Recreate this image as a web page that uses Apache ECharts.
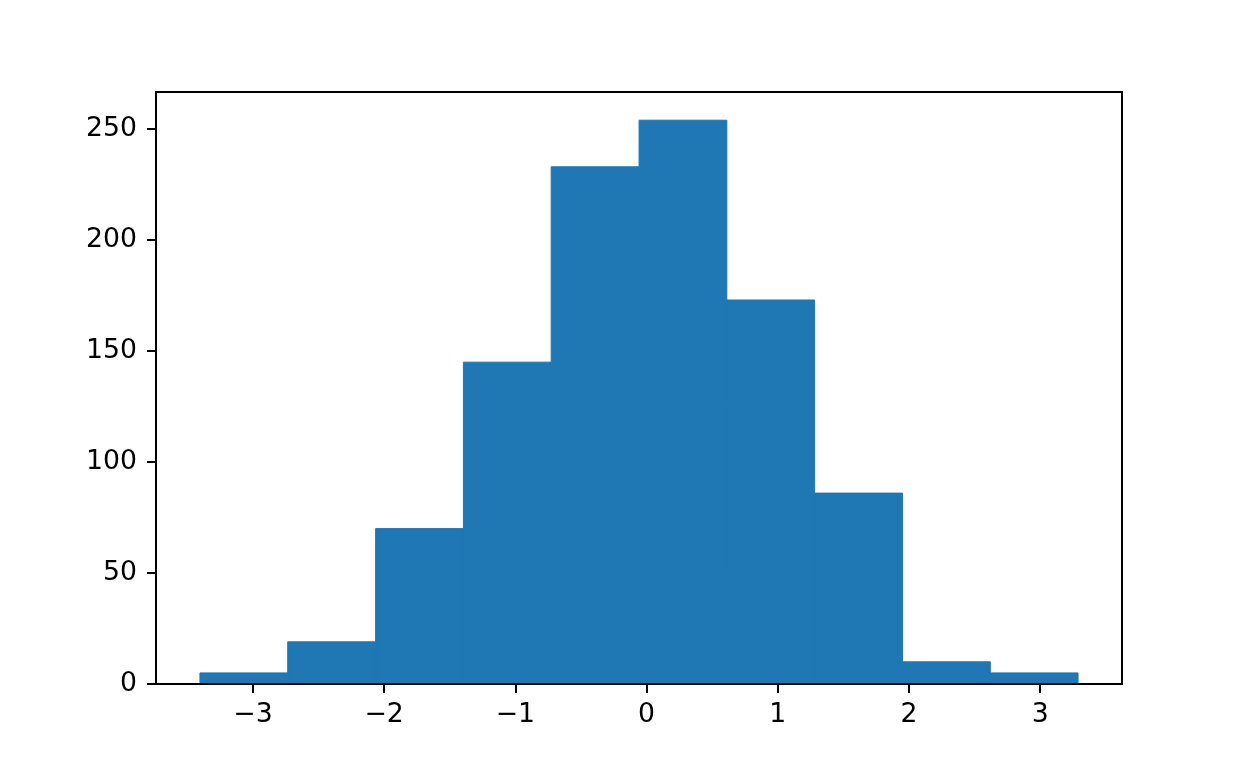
<!DOCTYPE html>
<html>
<head>
<meta charset="utf-8">
<script src="https://cdn.jsdelivr.net/npm/echarts@6/dist/echarts.min.js"></script>
<style>
html,body{margin:0;padding:0;background:#fff;}
#chart{width:1248px;height:768px;}
</style>
</head>
<body>
<div id="chart"></div>
<script>
// Histogram bin edges
var binEdges = [-3.404, -2.735, -2.065, -1.396, -0.727, -0.057, 0.612, 1.281, 1.951, 2.620, 3.289];
// Counts per bin
var counts = [5, 19, 70, 145, 233, 254, 173, 86, 10, 5];
// Tick labels
var xTicks = [-3, -2, -1, 0, 1, 2, 3];
var yTicks = [0, 50, 100, 150, 200, 250];

var data = [];
for (var i = 0; i < counts.length; i++) {
  data.push([binEdges[i], binEdges[i + 1], counts[i]]);
}

var font = 'DejaVu Sans';
var chart = echarts.init(document.getElementById('chart'), null, {renderer: 'canvas'});
chart.setOption({
  animation: false,
  backgroundColor: '#fff',
  grid: {
    left: 156, right: 126, top: 92, bottom: 84,
    show: true, borderColor: '#000', borderWidth: 2, backgroundColor: 'transparent'
  },
  xAxis: {
    type: 'value',
    min: -3.739, max: 3.624,
    z: 10,
    axisLine: {show: true, onZero: false, lineStyle: {color: '#000', width: 2}},
    axisTick: {show: true, length: 9, lineStyle: {color: '#000', width: 2}, customValues: xTicks},
    axisLabel: {
      customValues: xTicks,
      margin: 18,
      color: '#000', fontFamily: font, fontSize: 26.7,
      formatter: function (v) { return v < 0 ? '\u2212' + Math.abs(v) : String(v); }
    },
    splitLine: {show: false}
  },
  yAxis: {
    type: 'value',
    min: 0, max: 266.7,
    z: 10,
    axisLine: {show: true, onZero: false, lineStyle: {color: '#000', width: 2}},
    axisTick: {show: true, length: 9, lineStyle: {color: '#000', width: 2}, customValues: yTicks},
    axisLabel: {
      customValues: yTicks,
      margin: 19,
      color: '#000', fontFamily: font, fontSize: 26.7
    },
    splitLine: {show: false}
  },
  series: [{
    type: 'custom',
    z: 1,
    data: data,
    encode: {x: [0, 1], y: 2},
    renderItem: function (params, api) {
      var p0 = api.coord([api.value(0), api.value(2)]);
      var p1 = api.coord([api.value(1), 0]);
      return {
        type: 'rect',
        shape: {x: p0[0], y: p0[1], width: p1[0] - p0[0], height: p1[1] - p0[1]},
        style: {fill: '#1f77b4', stroke: '#1f77b4', lineWidth: 1}
      };
    }
  }]
});
</script>
</body>
</html>
